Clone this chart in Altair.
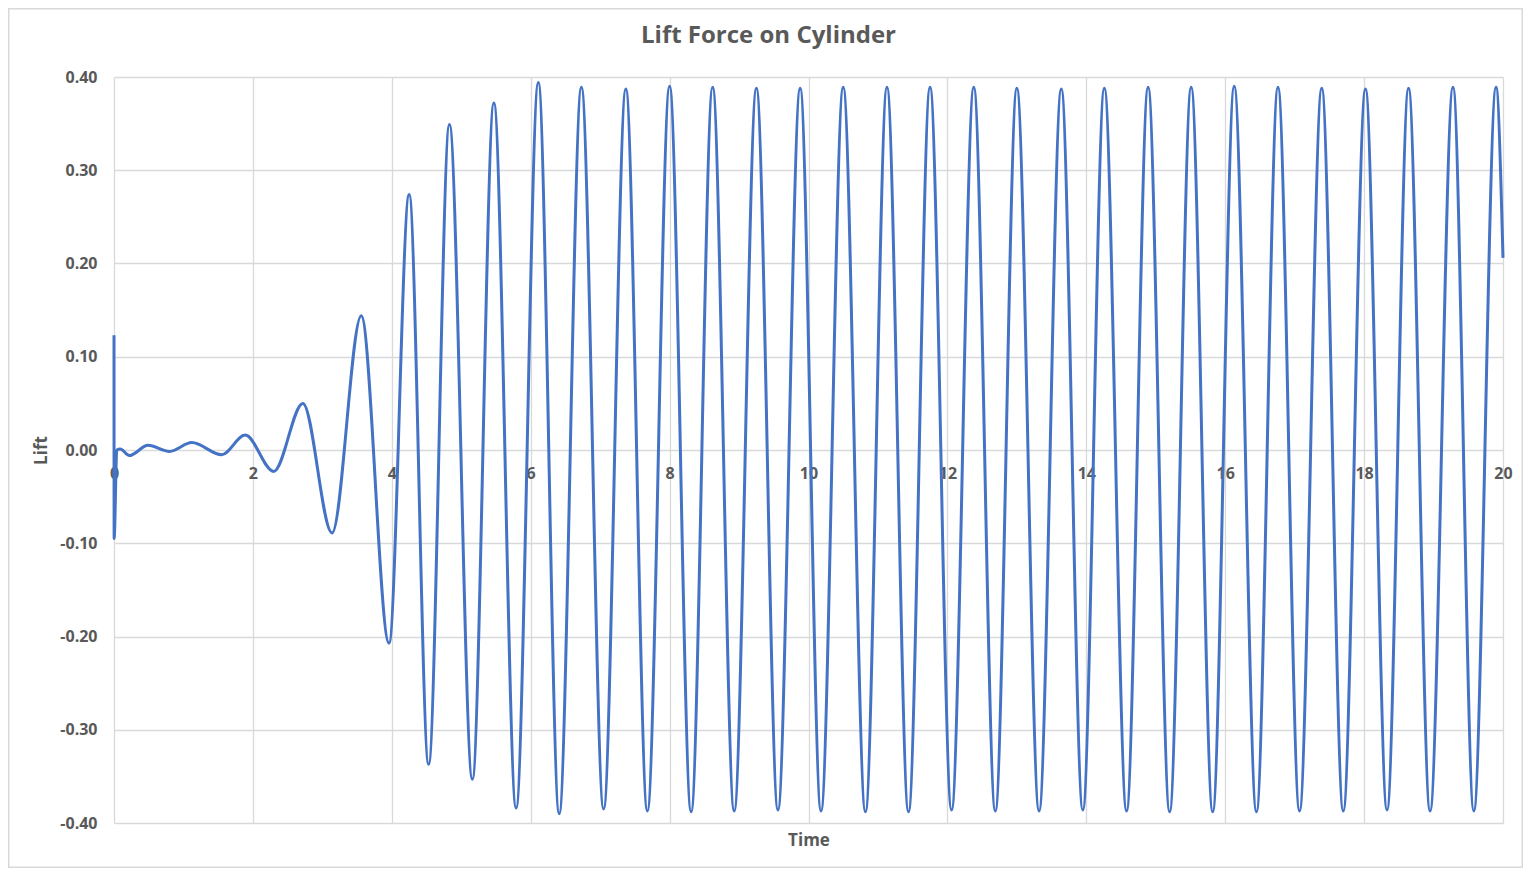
import altair as alt
import pandas as pd

# Values (extrema of the lift signal)
time = [0.0, 0.002, 0.04, 0.09, 0.22, 0.49, 0.80, 1.12, 1.55, 1.89, 2.30, 2.72, 3.14, 3.56,
        3.96, 4.25, 4.53, 4.83, 5.16, 5.47, 5.79, 6.11, 6.41, 6.73, 7.05, 7.37, 7.68,
        8.00, 8.31, 8.62, 8.93, 9.25, 9.56, 9.88, 10.18, 10.50, 10.82, 11.13, 11.44,
        11.75, 12.06, 12.38, 12.69, 13.00, 13.32, 13.64, 13.95, 14.26, 14.58, 14.89,
        15.20, 15.51, 15.82, 16.13, 16.45, 16.76, 17.07, 17.39, 17.70, 18.02, 18.33,
        18.64, 18.95, 19.28, 19.58, 19.90, 20.00]
lift = [0.123, -0.095, 0.000, 0.001, -0.006, 0.005, -0.0015, 0.008, -0.005, 0.016, -0.023,
        0.050, -0.089, 0.144, -0.207, 0.274, -0.337, 0.349, -0.353, 0.372, -0.384, 0.394,
        -0.390, 0.389, -0.385, 0.387, -0.387, 0.390, -0.388, 0.389, -0.387, 0.388, -0.386,
        0.388, -0.387, 0.389, -0.388, 0.389, -0.388, 0.389, -0.386, 0.389, -0.387, 0.388,
        -0.387, 0.387, -0.386, 0.388, -0.387, 0.389, -0.388, 0.389, -0.388, 0.390, -0.388,
        0.389, -0.387, 0.388, -0.387, 0.387, -0.386, 0.388, -0.387, 0.389, -0.387, 0.389,
        0.206]

x_ticks = [0, 2, 4, 6, 8, 10, 12, 14, 16, 18, 20]
y_ticks = [-0.4, -0.3, -0.2, -0.1, 0.0, 0.1, 0.2, 0.3, 0.4]
chart_title = ["Lift Force on Cylinder"]

df = pd.DataFrame({"Time": time, "Lift": lift})

W, H = 1389, 746
GRID = "#D9D9D9"
TXT = "#595959"
FONT = "Open Sans"

line = alt.Chart(df).mark_line(
    color="#4472C4", strokeWidth=3, interpolate="monotone"
).encode(
    x=alt.X(
        "Time:Q",
        scale=alt.Scale(domain=[0, 20], nice=False, zero=False),
        axis=alt.Axis(
            values=x_ticks, format="d", grid=True, gridColor=GRID, gridWidth=1.3,
            domain=False, ticks=False, tickSize=0, labelPadding=23, labelFlush=False,
            labelAlign="center", labelBaseline="middle", labelFont=FONT, labelFontSize=16,
            labelFontWeight="bold", labelColor=TXT, offset=-H / 2,
            title="Time", titleY=H / 2 + 17, titleBaseline="middle",
            titleFont=FONT, titleFontSize=17, titleFontWeight="bold", titleColor=TXT,
        ),
    ),
    y=alt.Y(
        "Lift:Q",
        scale=alt.Scale(domain=[-0.4, 0.4], nice=False, zero=False),
        axis=alt.Axis(
            values=y_ticks, grid=True, gridColor=GRID, gridWidth=1.3,
            labelExpr="replace(format(datum.value, '.2f'), '\u2212', '-')",
            domain=False, ticks=False, tickSize=0, labelPadding=17,
            labelFont=FONT, labelFontSize=16, labelFontWeight="bold", labelColor=TXT,
            title="Lift", titleX=-73, titleY=H / 2, titleAngle=-90,
            titleAlign="center", titleBaseline="middle",
            titleFont=FONT, titleFontSize=17, titleFontWeight="bold", titleColor=TXT,
        ),
    ),
)

frame = alt.Chart(pd.DataFrame({"a": [0]})).mark_rect(
    fillOpacity=0, stroke=GRID, strokeWidth=1.5
).encode(
    x=alt.value(-105.25), x2=alt.value(W + 19.25),
    y=alt.value(-68.25), y2=alt.value(H + 44.25),
)

title = alt.Chart(pd.DataFrame({"t": chart_title})).mark_text(
    font=FONT, fontSize=24, fontWeight="bold", color=TXT,
    align="center", baseline="alphabetic",
).encode(
    text="t:N", x=alt.value(W / 2 - 40), y=alt.value(-34),
)

chart = alt.layer(frame, line, title).properties(
    width=W, height=H,
    autosize=alt.AutoSizeParams(type="none"),
    padding={"left": 106, "top": 69, "right": 20, "bottom": 45},
).configure_view(strokeWidth=0)

chart.save("out.html", embed_options={"renderer": "svg", "actions": False})
